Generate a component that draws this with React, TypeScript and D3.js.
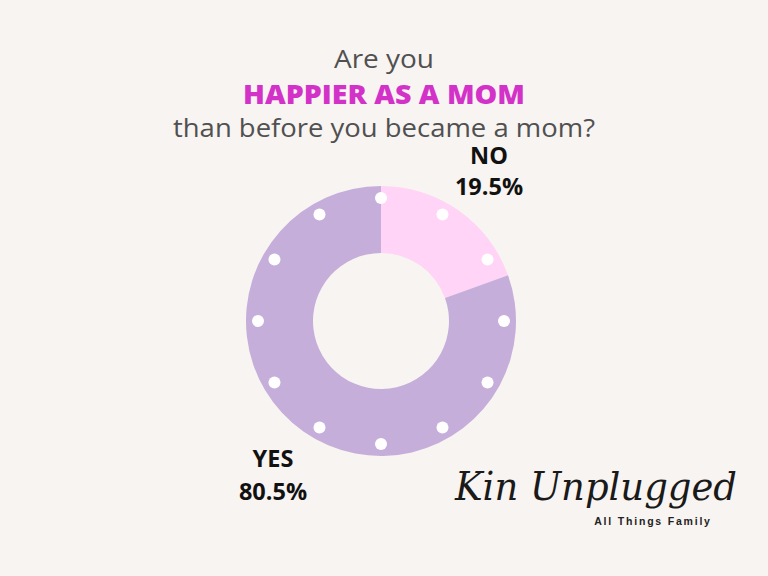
import React from "react";
import * as d3 from "d3";

const categories = ["NO", "YES"];
const values = [19.5, 80.5];
const labels = ["19.5%", "80.5%"];
const colors = ["#FFD4F6", "#C6AEDB"];
const dotCount = 12;

export default function App() {
  const W = 768, H = 576;
  const cx = 381, cy = 321;
  const pie = d3.pie<number>().sort(null).value((d) => d)(values);
  const arc = d3.arc<d3.PieArcDatum<number>>().innerRadius(68).outerRadius(135);
  const dots = d3.range(dotCount).map((i) => (i * 2 * Math.PI) / dotCount);
  const titleFont = "'Open Sans', sans-serif";
  return (
    <svg width={W} height={H} style={{ position: "absolute", left: 0, top: 0, display: "block" }}>
      <rect width={W} height={H} fill="#F8F4F1" />
      <text x={384} y={68} textAnchor="middle" fontFamily={titleFont} fontSize={26} textLength={100} lengthAdjust="spacingAndGlyphs" fill="#505050">Are you</text>
      <text x={384} y={104} textAnchor="middle" fontFamily={titleFont} fontWeight={800} fontSize={26.5} textLength={282} lengthAdjust="spacingAndGlyphs" fill="#D332C9">HAPPIER AS A MOM</text>
      <text x={384} y={137} textAnchor="middle" fontFamily={titleFont} fontSize={26} textLength={422} lengthAdjust="spacingAndGlyphs" fill="#505050">than before you became a mom?</text>
      <g transform={`translate(${cx},${cy})`}>
        {pie.map((p, i) => (
          <path key={categories[i]} d={arc(p) || ""} fill={colors[i]} />
        ))}
        {dots.map((a, i) => (
          <circle key={i} cx={123 * Math.sin(a)} cy={-123 * Math.cos(a)} r={6} fill="#FFFFFF" />
        ))}
      </g>
      <g fontFamily="'Open Sans', sans-serif" fontWeight={700} fontSize={23.5} fill="#111" textAnchor="middle">
        <text x={489} y={164}>{categories[0]}</text>
        <text x={489} y={195}>{labels[0]}</text>
        <text x={273} y={467}>{categories[1]}</text>
        <text x={273} y={500}>{labels[1]}</text>
      </g>
      <text x={596} y={500} textAnchor="middle" fontFamily="'DejaVu Serif', serif" fontStyle="italic" fontSize={40} textLength={282} lengthAdjust="spacingAndGlyphs" fill="#1a1a1a">Kin Unplugged</text>
      <text x={653} y={525} textAnchor="middle" fontFamily="'Liberation Sans', Arial, sans-serif" fontWeight={700} fontSize={10.5} letterSpacing={1.8} fill="#222">All Things Family</text>
    </svg>
  );
}
